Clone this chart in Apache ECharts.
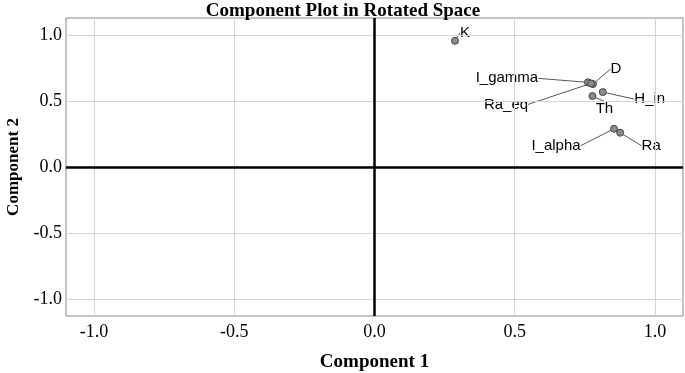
<!DOCTYPE html>
<html>
<head>
<meta charset="utf-8">
<script src="https://cdn.jsdelivr.net/npm/echarts@6/dist/echarts.min.js"></script>
<style>
  html, body { margin: 0; padding: 0; background: #fff; }
  #chart { width: 685px; height: 373px; }
</style>
</head>
<body>
<div id="chart"></div>
<script>
// variable loadings
const names = ['K', 'I_gamma', 'D', 'Ra_eq', 'H_in', 'Th', 'I_alpha', 'Ra']
const comp1 = [0.287, 0.761, 0.779, 0.772, 0.814, 0.777, 0.854, 0.876]
const comp2 = [0.957, 0.642, 0.629, 0.634, 0.568, 0.538, 0.290, 0.260]
const ticks = [-1.0, -0.5, 0.0, 0.5, 1.0]

// label offsets from each point (pixels)
const labelShift = {
  K: [10, -8],
  I_gamma: [-81, -4],
  D: [23, -15],
  Ra_eq: [-85, 21],
  H_in: [47, 7],
  Th: [12, 13],
  I_alpha: [-58, 17],
  Ra: [31, 13]
}

const serif = '"Liberation Serif", "DejaVu Serif", serif'
const gridColor = '#d4d4d4'

const option = {
  animation: false,
  title: {
    text: 'Component Plot in Rotated Space',
    left: 338,
    textAlign: 'center',
    top: -3,
    textStyle: { fontFamily: serif, fontWeight: 'bold', fontSize: 19, color: '#000' }
  },
  grid: {
    left: 66,
    right: 2,
    top: 18,
    bottom: 57,
    containLabel: false,
    outerBoundsMode: 'none',
    show: true,
    borderColor: '#888',
    borderWidth: 1
  },
  xAxis: {
    type: 'value',
    min: -1.1,
    max: 1.1,
    name: 'Component 1',
    nameLocation: 'middle',
    nameGap: 37,
    nameTextStyle: { fontFamily: serif, fontWeight: 'bold', fontSize: 19, color: '#000' },
    axisLine: { show: false },
    axisTick: { show: false },
    axisLabel: {
      fontFamily: serif, fontSize: 18, color: '#000', margin: 7,
      customValues: ticks,
      formatter: v => v.toFixed(1)
    },
    splitLine: { show: false }
  },
  yAxis: {
    type: 'value',
    min: -1.13,
    max: 1.13,
    name: 'Component 2',
    nameLocation: 'middle',
    nameGap: 44,
    nameTextStyle: { fontFamily: serif, fontWeight: 'bold', fontSize: 17, color: '#000' },
    axisLine: { show: false },
    axisTick: { show: false },
    axisLabel: {
      fontFamily: serif, fontSize: 18, color: '#000', margin: 4,
      customValues: ticks,
      formatter: v => v.toFixed(1)
    },
    splitLine: { show: false }
  },
  series: [
    {
      // grid lines at the tick values
      type: 'scatter',
      data: [],
      markLine: {
        silent: true,
        symbol: 'none',
        label: { show: false },
        lineStyle: { color: gridColor, width: 1, type: 'solid' },
        data: ticks.filter(t => t !== 0).map(t => ({ yAxis: t }))
          .concat(ticks.filter(t => t !== 0).map(t => ({ xAxis: t })))
      },
      z: 1
    },
    {
      type: 'scatter',
      symbolSize: 7,
      itemStyle: { color: '#8c8c8c', borderColor: '#444', borderWidth: 1, opacity: 1 },
      data: names.map((n, i) => ({ name: n, value: [comp1[i], comp2[i]] })),
      label: {
        show: true,
        position: 'inside',
        formatter: p => p.name,
        fontFamily: '"Liberation Sans", Arial, sans-serif',
        fontSize: 15,
        color: '#000'
      },
      labelLine: { show: true, lineStyle: { color: '#555', width: 1 } },
      labelLayout: p => {
        const s = labelShift[p.text] || [0, 0]
        return { dx: s[0], dy: s[1] }
      },
      markLine: {
        silent: true,
        symbol: 'none',
        label: { show: false },
        lineStyle: { color: '#000', width: 2.5, type: 'solid' },
        data: [{ xAxis: 0 }, { yAxis: 0 }]
      },
      z: 3
    }
  ]
}

const chart = echarts.init(document.getElementById('chart'))
chart.setOption(option)
</script>
</body>
</html>
